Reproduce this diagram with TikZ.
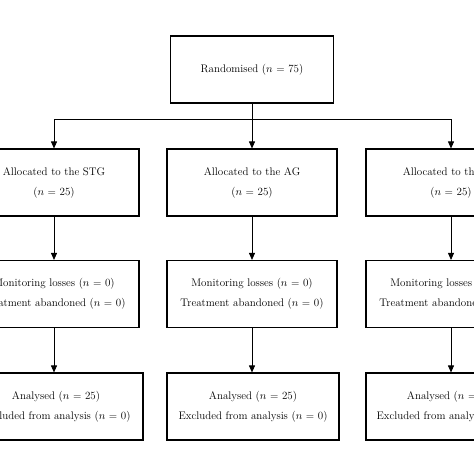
\documentclass[tikz,border=0pt]{standalone}
\usetikzlibrary{arrows.meta}
\begin{document}
\begin{tikzpicture}[x=1pt, y=-1pt,
    box/.style={draw, line width=1.1pt, minimum width=170pt, minimum height=67pt,
      align=center, inner sep=0pt, font=\fontsize{11}{20}\selectfont},
    flow/.style={-{Triangle[length=7pt, width=6pt]}, line width=0.8pt}]
    \useasboundingbox (0,0) rectangle (474,474);
    \clip (0,0) rectangle (474,474);

    \node (rand) at (252,  69.5) [box, minimum width=163pt] {Randomised ($n$ = 75)};
    \coordinate (split) at (252, 119);

    % allocation
    \node (stg)  at (54,  182.5) [box] {Allocated to the STG\\($n$ = 25)};
    \node (ag)   at (252, 182.5) [box] {Allocated to the AG\\($n$ = 25)};
    \node (cg)   at (451, 182.5) [box] {Allocated to the CG\\($n$ = 25)};

    % follow-up
    \node (stgf) at (54,  294) [box] {Monitoring losses ($n$ = 0)\\Treatment abandoned ($n$ = 0)};
    \node (agf)  at (252, 294) [box] {Monitoring losses ($n$ = 0)\\Treatment abandoned ($n$ = 0)};
    \node (cgf)  at (451, 294) [box] {Monitoring losses ($n$ = 0)\\Treatment abandoned ($n$ = 0)};

    % analysis
    \node (stga) at (56,  406.5) [box, minimum width=174pt] {Analysed ($n$ = 25)\\Excluded from analysis ($n$ = 0)};
    \node (aga)  at (253, 406.5) [box, minimum width=172pt] {Analysed ($n$ = 25)\\Excluded from analysis ($n$ = 0)};
    \node (cga)  at (451, 406.5) [box] {Analysed ($n$ = 25)\\Excluded from analysis ($n$ = 0)};

    \draw [line width=0.8pt] (rand.south) -- (split);
    \draw [flow] (split) -| (stg.north);
    \draw [flow] (split) -- (ag.north);
    \draw [flow] (split) -| (cg.north);

    \draw [flow] (stg) -- (stgf);
    \draw [flow] (ag)  -- (agf);
    \draw [flow] (cg)  -- (cgf);

    \draw [flow] (stgf.south) -- (stgf.south |- stga.north);
    \draw [flow] (agf.south)  -- (agf.south |- aga.north);
    \draw [flow] (cgf) -- (cga);
\end{tikzpicture}
\end{document}
